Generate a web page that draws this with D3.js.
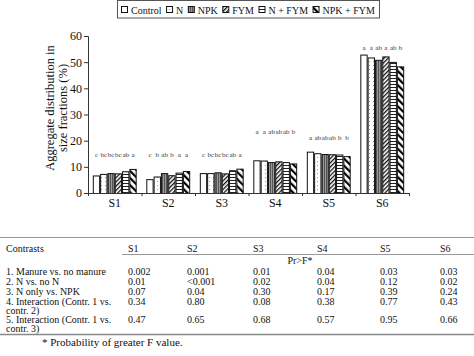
<!DOCTYPE html>
<html><head><meta charset="utf-8">
<script src="https://cdn.jsdelivr.net/npm/d3@7"></script>
<style>
html,body{margin:0;padding:0;background:#fff;}
svg text{font-family:"Liberation Serif","Times New Roman",serif;fill:#111;}
</style></head>
<body><svg id="c" width="474" height="356"></svg>
<script>
// ---- data ----
const groups = ["S1","S2","S3","S4","S5","S6"];
const series = ["Control","N","NPK","FYM","N + FYM","NPK + FYM"];
const controlVals = [6.7, 5.3, 7.6, 12.5, 15.8, 52.9];
const nVals       = [7.3, 6.3, 7.6, 12.4, 15.2, 51.8];
const npkVals     = [7.6, 7.6, 7.9, 11.8, 14.9, 50.9];
const fymVals     = [7.5, 6.8, 7.5, 12.1, 14.8, 52.2];
const nFymVals    = [8.3, 7.8, 8.7, 11.8, 14.7, 50.1];
const npkFymVals  = [9.2, 8.4, 9.3, 11.3, 14.1, 48.4];
const sigLetters = [
  ["c","bc","bc","bc","ab","a"],
  ["c","b","ab","b","a","a"],
  ["c","bc","bc","bc","ab","a"],
  ["a","a","ab","ab","ab","b"],
  ["a","ab","ab","ab","b","b"],
  ["a","a","ab","a","ab","b"]
];
const letterLevel = [14.5, 14.5, 14.5, 23.4, 20.9, 55.6];
const yTicks = [0,10,20,30,40,50,60];
const yTitle = ["Aggregate distribution in","size fractions (%)"];
const tableHead = ["Contrasts","S1","S2","S3","S4","S5","S6"];
const subHead = "Pr>F*";
const contrastLabels = [
  ["1. Manure vs. no manure"],
  ["2. N vs. no N"],
  ["3. N only vs. NPK"],
  ["4. Interaction (Contr. 1 vs.","contr. 2)"],
  ["5. Interaction (Contr. 1 vs.","contr. 3)"]
];
const pValues = [
  ["0.002","0.001","0.01","0.04","0.03","0.03"],
  ["0.01","<0.001","0.02","0.04","0.12","0.02"],
  ["0.07","0.04","0.30","0.17","0.39","0.24"],
  ["0.34","0.80","0.08","0.38","0.77","0.43"],
  ["0.47","0.65","0.68","0.57","0.95","0.66"]
];
const footnote = "* Probability of greater F value.";

const allVals = [controlVals,nVals,npkVals,fymVals,nFymVals,npkFymVals];

(function(){
const svg = d3.select("#c");
const defs = svg.append("defs");
function pat(id, w, h, build, rot){
  const p = defs.append("pattern").attr("id",id).attr("patternUnits","userSpaceOnUse")
    .attr("width",w).attr("height",h);
  if(rot) p.attr("patternTransform","rotate("+rot+")");
  build(p);
}
pat("pN",4,4,p=>{p.append("rect").attr("width",4).attr("height",4).attr("fill","#fff");
  p.append("rect").attr("x",1).attr("y",1).attr("width",1).attr("height",1).attr("fill","#999");});
pat("pNPK",2,2,p=>{p.append("rect").attr("width",2).attr("height",2).attr("fill","#9a9a9a");
  p.append("rect").attr("width",1).attr("height",2).attr("fill","#555");});
pat("pFYM",3,3,p=>{p.append("rect").attr("width",3).attr("height",3).attr("fill","#fff");
  p.append("rect").attr("width",1.3).attr("height",3).attr("fill","#111");},45);
pat("pNF",3,3,p=>{p.append("rect").attr("width",3).attr("height",3).attr("fill","#fff");
  p.append("rect").attr("width",3).attr("height",1).attr("fill","#222");});
pat("pNPKF",5,5,p=>{p.append("rect").attr("width",5).attr("height",5).attr("fill","#fff");
  p.append("rect").attr("width",2.2).attr("height",5).attr("fill","#000");},-45);
const fills = ["#fff","url(#pN)","url(#pNPK)","url(#pFYM)","url(#pNF)","url(#pNPKF)"];

const pl = 88, pr = 409, pt = 36, pb = 193;
const y = d3.scaleLinear().domain([0,60]).range([pb,pt]);
const x0 = d3.scaleBand().domain(groups).range([pl,pr]).paddingInner(0.18).paddingOuter(0.09);
const x1 = d3.scaleBand().domain(series).range([0,x0.bandwidth()]);
const xb = d3.scaleLinear().domain([0,groups.length]).range([pl,pr]);

const g = svg.append("g");
groups.forEach((grp,gi)=>{
  series.forEach((s,si)=>{
    const v = allVals[si][gi];
    g.append("rect").attr("x",x0(grp)+x1(s)+0.5).attr("y",y(v)+0.5)
      .attr("width",x1.bandwidth()-1).attr("height",y(0)-y(v))
      .attr("fill",fills[si]).attr("stroke","#111").attr("stroke-width",1);
    g.append("text").attr("x",x0(grp)+x1(s)+x1.bandwidth()/2).attr("y",y(letterLevel[gi]))
      .attr("text-anchor","middle").attr("dominant-baseline","central")
      .style("font-size","7px").style("fill","#333").text(sigLetters[gi][si]);
  });
});

const yAx = svg.append("g").attr("transform","translate("+pl+",0)")
  .call(d3.axisLeft(y).tickValues(yTicks).tickSize(4).tickPadding(2));
yAx.selectAll("text").style("font-size","12px");
const xAx = svg.append("g").attr("transform","translate(0,"+pb+")")
  .call(d3.axisBottom(xb).tickValues(d3.range(groups.length+1)).tickSize(3).tickFormat(""));
[yAx,xAx].forEach(a=>{a.selectAll("path,line").attr("stroke","#333");});
svg.append("g").selectAll("text").data(groups).join("text")
  .attr("x",d=>x0(d)+x0.bandwidth()/2).attr("y",206.5)
  .attr("text-anchor","middle").style("font-size","12px").text(d=>d);

const yt = svg.append("text").attr("transform","translate(0,108) rotate(-90)")
  .attr("text-anchor","middle").style("font-size","12.5px");
yt.append("tspan").attr("x",0).attr("y",54).text(yTitle[0]);
yt.append("tspan").attr("x",0).attr("y",66.5).text(yTitle[1]);

const lg = svg.append("g");
lg.append("rect").attr("x",117.5).attr("y",0.5).attr("width",262).attr("height",17.5)
  .attr("fill","#fff").attr("stroke","#555");
let lx = 121;
series.forEach((s,si)=>{
  lg.append("rect").attr("x",lx+0.5).attr("y",6.5).attr("width",6).attr("height",6)
    .attr("fill",fills[si]).attr("stroke","#111");
  const t = lg.append("text").attr("x",lx+10).attr("y",13.5).style("font-size","10px").text(s);
  lx += 10 + t.node().getComputedTextLength() + 4.5;
});

const tb = svg.append("g");
const colX = [6,128,187,253,317,380,440];
tb.append("line").attr("x1",0).attr("x2",474).attr("y1",237.5).attr("y2",237.5).attr("stroke","#999");
tb.append("line").attr("x1",122).attr("x2",474).attr("y1",254.5).attr("y2",254.5).attr("stroke","#999");
tb.append("line").attr("x1",0).attr("x2",474).attr("y1",334.5).attr("y2",334.5).attr("stroke","#888").attr("stroke-width",1.3);
tableHead.forEach((h,i)=>{
  tb.append("text").attr("x",colX[i]).attr("y",248).attr("dominant-baseline","central")
    .style("font-size","10px").text(h);
});
tb.append("text").attr("x",300).attr("y",260.7).attr("text-anchor","middle")
  .attr("dominant-baseline","central").style("font-size","10px").text(subHead);
const rowY = [271.7,281.7,291.7,301,319];
contrastLabels.forEach((lab,ri)=>{
  lab.forEach((l,li)=>{
    tb.append("text").attr("x",colX[0]).attr("y",rowY[ri]+li*9.3).attr("dominant-baseline","central")
      .style("font-size","10px").text(l);
  });
  pValues[ri].forEach((v,ci)=>{
    tb.append("text").attr("x",colX[ci+1]).attr("y",rowY[ri]).attr("dominant-baseline","central")
      .style("font-size","10px").text(v);
  });
});
tb.append("text").attr("x",42).attr("y",341.5).attr("dominant-baseline","central")
  .style("font-size","11px").text(footnote);
})();
</script></body></html>
